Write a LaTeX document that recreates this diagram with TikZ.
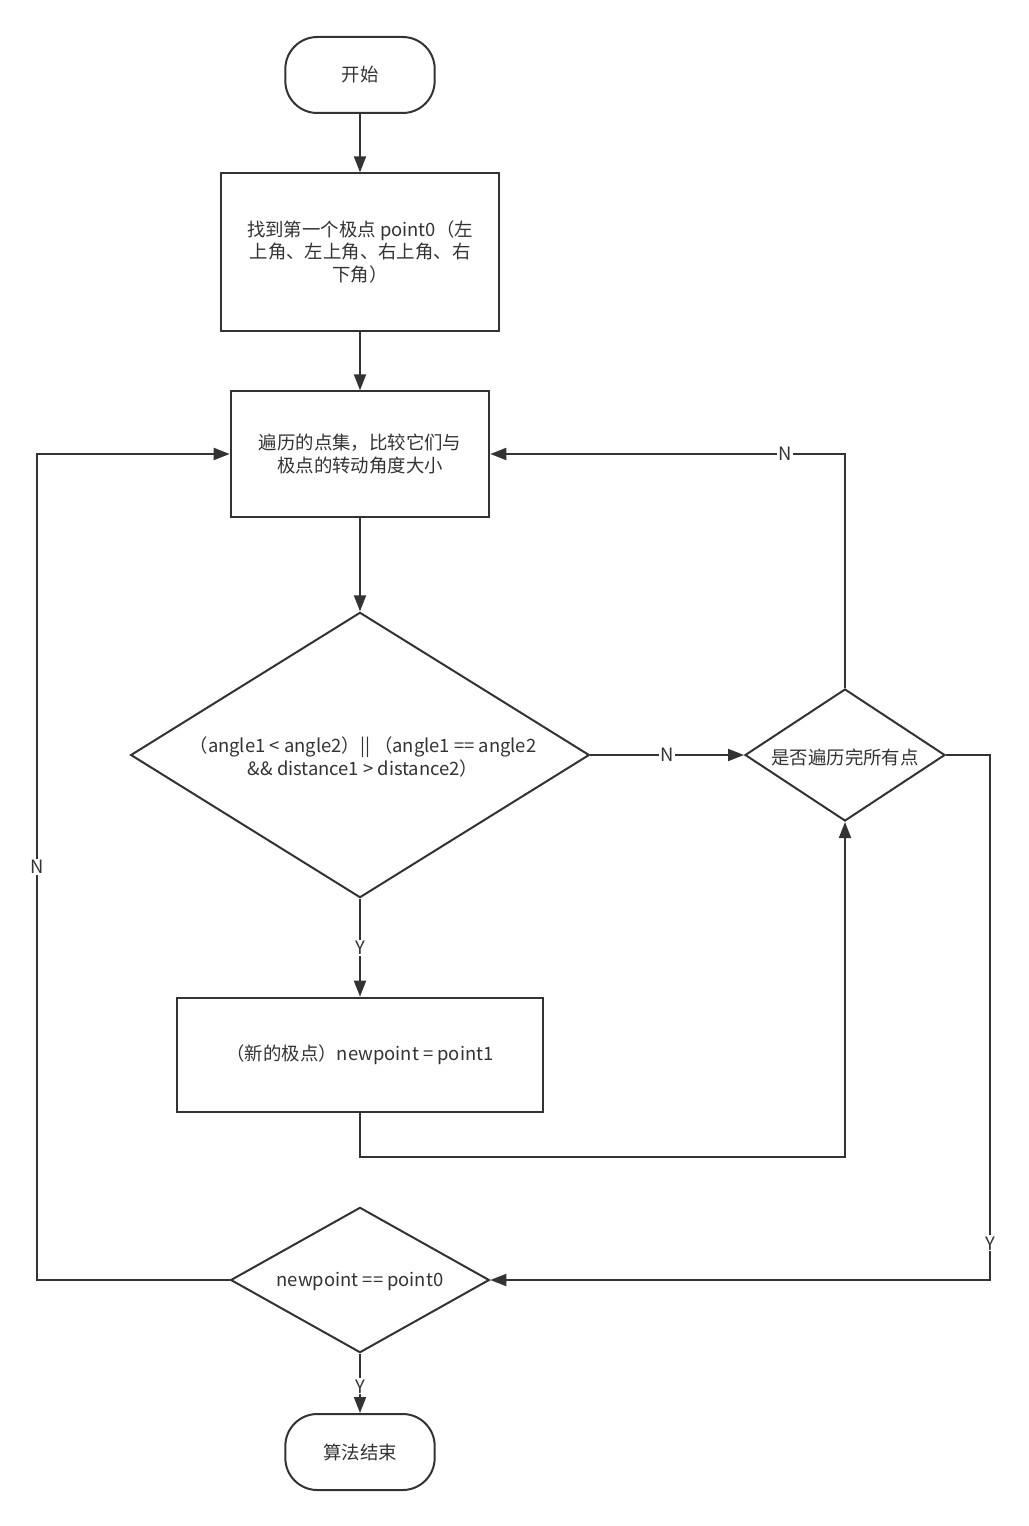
\documentclass[tikz,border=0pt]{standalone}
\usepackage{fontspec}
\setmainfont{Noto Sans CJK SC}
\usetikzlibrary{shapes.geometric,arrows.meta}
\definecolor{ln}{HTML}{333333}
\begin{document}
\begin{tikzpicture}[x=0.75pt,y=-0.75pt,
  every node/.style={font=\fontsize{13.8}{17}\selectfont, text=ln},
  base/.style={draw=ln, line width=1.5pt, fill=white, inner sep=0pt},
  term/.style={base, rounded corners=24pt, minimum width=112pt, minimum height=57pt},
  boxx/.style={base, rectangle},
  dia/.style={base, diamond},
  arr/.style={draw=ln, line width=1.5pt, -{Triangle[length=12pt,width=9pt]}},
  lbl/.style={fill=white, inner sep=1pt}]
\useasboundingbox (0,0) rectangle (1028,1526);
\node[term] (start) at (360,75) {开始};
\node[boxx, minimum width=209pt, minimum height=118pt, align=center] (b1) at (360,252) {找到第一个极点 point0（左\\上角、左上角、右上角、右\\下角）};
\node[boxx, minimum width=194pt, minimum height=94pt, align=center] (b2) at (360,454) {遍历的点集，比较它们与\\极点的转动角度大小};
\node[dia, minimum width=344pt, minimum height=214pt] (d1) at (360,755) {};
\node[align=center] at (363,757) {（angle1 \textless{} angle2）||\ （angle1 == angle2\\\&\& distance1 \textgreater{} distance2）};
\node[dia, minimum width=150pt, minimum height=99pt] (d2) at (845,755) {};
\node at (845,757) {是否遍历完所有点};
\node[boxx, minimum width=274pt, minimum height=86pt] (b3) at (360,1055) {（新的极点）newpoint = point1};
\node[dia, minimum width=194pt, minimum height=109pt] (d3) at (360,1280) {};
\node at (360,1281) {newpoint == point0};
\node[term] (end) at (360,1452) {算法结束};
\coordinate (c1) at (360,1157);
\coordinate (c2) at (845,1157);
\coordinate (c3) at (845,454);
\coordinate (c4) at (990,755);
\coordinate (c5) at (990,1280);
\coordinate (c6) at (37,1280);
\coordinate (c7) at (37,454);
\draw[arr] (start) -- (b1);
\draw[arr] (b1) -- (b2);
\draw[arr] (b2) -- (d1.north);
\draw[arr] (d1.south) -- node[lbl, pos=0.5]{Y} (b3);
\draw[arr] (b3.south) -- (c1) -- (c2) -- (d2.south);
\draw[arr] (d1.east) -- node[lbl, pos=0.5]{N} (d2.west);
\draw[arr] (d2.north) -- (c3) -- node[lbl, pos=0.17]{N} (b2.east);
\draw[arr] (d2.east) -- (c4) -- (c5) node[lbl, pos=0.93]{Y} -- (d3.east);
\draw[arr] (d3.west) -- (c6) -- (c7) node[lbl, pos=0.5]{N} -- (b2.west);
\draw[arr] (d3.south) -- node[lbl, pos=0.55]{Y} (end);
\end{tikzpicture}
\end{document}
